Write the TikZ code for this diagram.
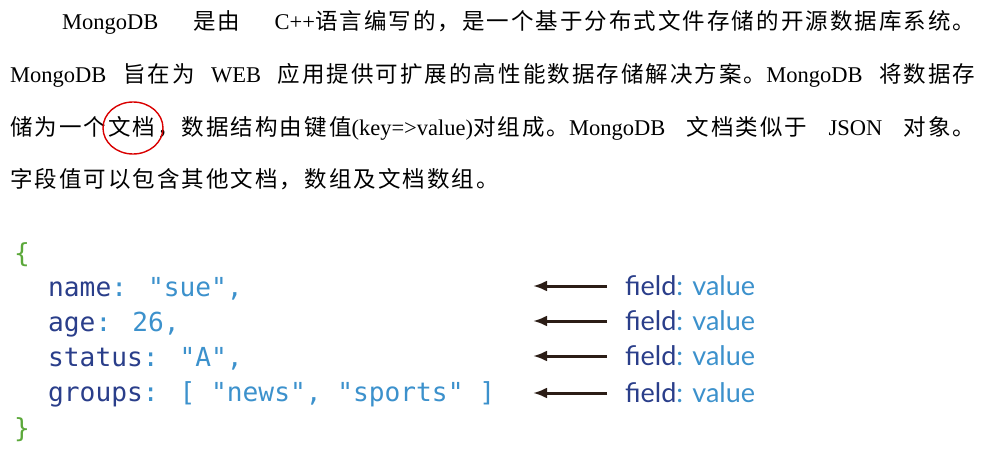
\documentclass[tikz,border=0pt]{standalone}
\usetikzlibrary{arrows.meta}
\usepackage{fontspec}
\setmainfont{Liberation Serif}
\newfontfamily\cjk[LetterSpace=9]{Noto Sans CJK SC}
\newfontfamily\codef{DejaVu Sans Mono}
\newfontfamily\lab{Lato}
\definecolor{dk}{HTML}{2A3E8A}
\definecolor{lt}{HTML}{3C91CC}
\definecolor{gr}{HTML}{5BA83A}
\definecolor{ar}{HTML}{2B1D16}
\newcommand\gsp{\hspace{4pt plus 1fil}}
\begin{document}
\begin{tikzpicture}[x=1pt,y=-1pt,
  para/.style={anchor=base west,inner sep=0pt,font=\fontsize{22.5}{22}\selectfont},
  code/.style={anchor=base west,inner sep=0pt,font=\codef\fontsize{26.2}{26}\selectfont},
  fv/.style={anchor=base west,inner sep=0pt,font=\lab\fontsize{27}{27}\selectfont},
  arr/.style={-{Latex[length=14pt,width=11pt]},line width=3pt,ar}]
\useasboundingbox (0,0) rectangle (988,452);
\node[para] (l1) at (62,30) {\makebox[913pt][s]{MongoDB\gsp{\cjk 是由}\gsp C++{\cjk 语言编写的，是一个基于分布式文件存储的开源数据库系统。}}};
\node[para] (l2) at (10,83) {\makebox[965pt][s]{MongoDB\gsp{\cjk 旨在为}\gsp WEB\gsp{\cjk 应用提供可扩展的高性能数据存储解决方案。}MongoDB\gsp{\cjk 将数据存}}};
\node[para] (l3) at (10,135) {\makebox[965pt][s]{{\cjk 储为一个文档，数据结构由键值}(key=>value){\cjk 对组成。}MongoDB\gsp{\cjk 文档类似于}\gsp JSON\gsp{\cjk 对象。}}};
\node[para] (l4) at (10,187) {{\cjk 字段值可以包含其他文档，数组及文档数组。}};
\draw[red!85!black,line width=1.4pt] (133,128) ellipse (30 and 26);
\node[code,gr] (ob) at (14,262) {\{};
\node[code] (c1) at (48,296) {\textcolor{dk}{name}\textcolor{lt}{: "sue",}};
\node[code] (c2) at (48,331) {\textcolor{dk}{age}\textcolor{lt}{: 26,}};
\node[code] (c3) at (48,366) {\textcolor{dk}{status}\textcolor{lt}{: "A",}};
\node[code] (c4) at (48,401) {\textcolor{dk}{groups}\textcolor{lt}{: [ "news", "sports" ]}};
\node[code,gr] (cb) at (14,437) {\}};
\foreach \i/\y in {1/286,2/321,3/356,4/393}{
  \node[fv] (f\i) at (625,\y+9) {\textcolor{dk}{field}\textcolor{lt}{: value}};
  \coordinate (s\i) at (607,\y);
  \coordinate (e\i) at (533,\y);
  \draw[arr] (s\i) -- (e\i);
}
\end{tikzpicture}
\end{document}
